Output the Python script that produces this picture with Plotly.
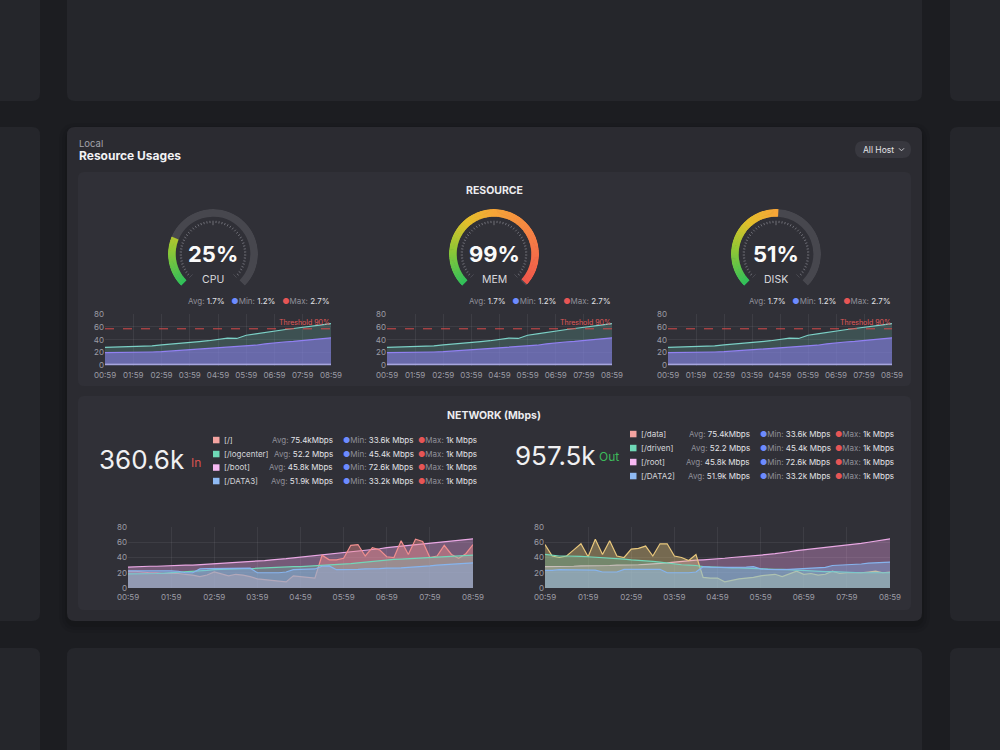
import plotly.graph_objects as go

W, H = 1000, 750
FONT = "Inter, 'Noto Sans', sans-serif"


def px(x):
    return x / W


def py(y):
    return 1 - y / H


# ---------------- data ----------------
TIME_TICKS = ["00:59", "01:59", "02:59", "03:59", "04:59", "05:59", "06:59", "07:59", "08:59"]
TICK_MIN = [0, 60, 120, 180, 240, 300, 360, 420, 480]
Y_TICKS = [0, 20, 40, 60, 80]
SAMPLE_10 = list(range(0, 481, 10))   # minutes after 00:59
SAMPLE_20 = list(range(0, 481, 20))

GAUGE_NAMES = ["CPU", "MEM", "DISK"]
GAUGE_VALUES = [25, 99, 51]
RES_AVG = ["1.7%", "1.7%", "1.7%"]
RES_MIN = ["1.2%", "1.2%", "1.2%"]
RES_MAX = ["2.7%", "2.7%", "2.7%"]
THRESHOLD = 57
THRESHOLD_LABEL = "Threshold 90%"

RES_UPPER = [28, 28.5, 28.5, 29, 29.5, 30.5, 32, 33, 34.5, 36, 37, 38.5, 40, 42.5, 42, 47,
             49, 51.5, 54, 55.5, 57.5, 59, 61, 63, 65]
RES_LOWER = [20, 20, 20, 20, 20.5, 21, 21.5, 22.5, 23, 24, 25, 26, 27, 28, 29, 30, 31.5,
             33.5, 35.5, 36.5, 37.5, 38.7, 40, 41.5, 43]
RES_BASE = [2, 2, 2, 2, 2, 2, 2, 2, 2, 2, 2, 2, 2, 2, 2, 2, 2, 2, 2, 2, 2, 2, 2, 2, 2]

IN_TOTAL = "360.6k"
OUT_TOTAL = "957.5k"
IN_NAMES = ["[/]", "[/logcenter]", "[/boot]", "[/DATA3]"]
OUT_NAMES = ["[/data]", "[/driven]", "[/root]", "[/DATA2]"]
NET_AVG = ["75.4kMbps", "52.2 Mbps", "45.8k Mbps", "51.9k Mbps"]
NET_MIN = ["33.6k Mbps", "45.4k Mbps", "72.6k Mbps", "33.2k Mbps"]
NET_MAX = ["1k Mbps", "1k Mbps", "1k Mbps", "1k Mbps"]
LEGEND_COLORS = ["#f4a3a0", "#6fd8b6", "#f6b8f2", "#8fbaf4"]

NET_IN_ROOT = [22, 22, 21, 20, 20, 19, 19, 19, 18, 17, 15, 17, 21, 18, 16, 18, 17, 15, 12, 11,
               10, 9, 8, 16, 15, 14, 13, 43, 37, 37, 39, 56, 57, 42, 53, 50, 41, 40, 62, 44,
               64, 61, 40, 42, 56, 44, 39, 45, 57]
NET_IN_LOG = [18.5, 18.5, 19, 19, 19, 19.5, 20, 20.5, 21, 21.5, 22, 23, 24, 24.5, 25, 25, 25.5,
              25.5, 26, 26.5, 27, 27, 27.5, 28, 28, 28.5, 29, 29.5, 30, 30.5, 31, 32, 33, 34, 35,
              36, 37, 37.5, 38, 38.5, 39, 40, 40.5, 41, 41.5, 42, 42, 42.5, 43]
NET_IN_BOOT = [27.5, 28, 28, 28.5, 28.5, 29, 29, 29.5, 30, 30, 30.5, 31, 31.5, 32, 32.5, 33, 33.5,
               34, 35, 36, 37, 37.5, 38.5, 39.5, 40.5, 41.5, 42.5, 43.5, 44.5, 45, 46, 47, 48, 49,
               50.5, 51.5, 53, 54, 55, 56, 57, 58, 59, 60, 61, 62, 63, 63.5, 64.5]
NET_IN_DATA3 = [22.5, 22.5, 23, 23, 23, 22.5, 22.5, 22, 20, 20, 25, 25.5, 25.5, 25.5, 25.5, 25.5,
                26, 26, 20, 20, 20, 20, 21, 24, 24.5, 24.5, 25, 28.5, 29, 24, 24, 24, 24.5, 25, 25,
                25.5, 26, 26, 26.5, 27, 27.5, 28, 29, 30, 30.5, 31, 32, 32.5, 33]

NET_OUT_DATA = [57, 42, 40, 42, 50, 58, 41, 64, 44, 62, 42, 40, 51, 52, 55, 42, 58, 58, 42, 40,
                36, 44, 14, 13, 13, 8, 10, 12, 13, 14, 16, 17, 18, 15, 18, 22, 18, 19, 17, 18,
                22, 19, 20, 20, 20, 21, 22, 20, 21]
NET_OUT_DRIVEN = [44, 43, 42, 42, 42, 41.5, 41, 40.5, 40, 39, 38.5, 38, 37, 36.5, 36, 35, 34, 32.5,
                  31, 30.5, 30, 29.5, 28, 27.5, 27, 27, 26.5, 26.5, 26, 25.5, 25, 25, 24.5, 24.5,
                  24, 23.5, 23, 22, 22, 21.5, 21.5, 21, 21, 20.5, 20, 20, 20, 20, 20]
NET_OUT_ROOT = [28, 28, 28, 28.5, 28.5, 29, 29, 29, 29.5, 29.5, 30, 30, 30, 30.5, 31, 31.5, 32, 33,
                34, 35, 36, 36.5, 37, 37.5, 38, 39, 40, 41, 41.5, 42.5, 43, 44, 45, 46, 47.5, 49,
                50, 51, 52, 53, 54, 55, 56, 57, 58.5, 60, 61.5, 63, 64.5]
NET_OUT_DATA2 = [23, 23, 24, 24, 24, 24, 24, 23.5, 21, 21, 21, 24.5, 24.5, 25, 25, 25, 24.5, 20,
                 20, 20, 20, 21, 28, 27.5, 27, 27, 27, 27, 27.5, 28, 25, 24.5, 24, 24, 24.5, 25,
                 25.5, 26, 26.5, 27, 29.5, 30, 30, 31, 31.5, 32.5, 33, 33.5, 34]

# ---------------- styles ----------------
PAGE_BG = "#1c1d21"
SIDE_CARD = "#25262b"
MAIN_CARD = "#2b2b31"
PANEL = "#303037"
TICK_COLOR = "#9c9ca5"
GRID = "rgba(255,255,255,0.065)"
LBL = "#8f8f98"
VAL = "#e2e2e6"

fig = go.Figure()
shapes = []
annotations = []


def rrect(x0, y0, x1, y1, r, color):
    cx = lambda v: min(max(v, 0), W)
    cy = lambda v: min(max(v, 0), H)
    X = lambda v: f"{cx(v) / W:.5f}"
    Y = lambda v: f"{1 - cy(v) / H:.5f}"
    path = (f"M {X(x0 + r)},{Y(y0)} L {X(x1 - r)},{Y(y0)} Q {X(x1)},{Y(y0)} {X(x1)},{Y(y0 + r)} "
            f"L {X(x1)},{Y(y1 - r)} Q {X(x1)},{Y(y1)} {X(x1 - r)},{Y(y1)} L {X(x0 + r)},{Y(y1)} "
            f"Q {X(x0)},{Y(y1)} {X(x0)},{Y(y1 - r)} L {X(x0)},{Y(y0 + r)} Q {X(x0)},{Y(y0)} {X(x0 + r)},{Y(y0)} Z")
    shapes.append(dict(type="path", path=path, xref="paper", yref="paper", fillcolor=color,
                       line=dict(width=0), layer="below"))


def text(s, x, y, size, color=VAL, xa="center", ya="middle"):
    annotations.append(dict(text=s, x=px(x), y=py(y), xref="paper", yref="paper", xanchor=xa,
                            yanchor=ya, showarrow=False, borderpad=0,
                            font=dict(size=size, color=color, family=FONT)))


# background cards
for (y0, y1) in [(-20, 101), (127, 621), (648, 770)]:
    rrect(-20, y0, 40, y1, 8, SIDE_CARD)
    rrect(950, y0, 1020, y1, 8, SIDE_CARD)
rrect(67, -20, 922, 101, 8, SIDE_CARD)
rrect(67, 648, 922, 770, 8, SIDE_CARD)
for i, a in enumerate([0.05, 0.06, 0.08]):
    g = 8 - i * 3
    rrect(67 - g, 127 - g + 4, 922 + g, 621 + g + 4, 10 + g, f"rgba(0,0,0,{a})")
rrect(67, 127, 922, 621, 8, MAIN_CARD)
rrect(78, 172, 911, 386, 6, PANEL)
rrect(78, 396, 911, 610, 6, PANEL)
rrect(855, 141, 911, 158, 8.5, "#38383f")

# chevron on the host selector
shapes.append(dict(type="path", xref="paper", yref="paper", layer="above",
                   path=f"M {px(899)},{py(148.3)} L {px(901.5)},{py(150.8)} L {px(904)},{py(148.3)}",
                   line=dict(color="#c8c8cc", width=1)))

# header texts
text("Local", 78, 143, 9.5, "#a3a3ab", xa="left")
text("<b>Resource Usages</b>", 78, 156, 12, "#f2f2f4", xa="left")
text("All Host", 862, 149.5, 8.5, "#e2e2e6", xa="left")
text("<b>RESOURCE</b>", 494, 191, 10.5, "#ececef")
text("<b>NETWORK (Mbps)</b>", 494, 415, 10.5, "#ececef")


# ---------------- gauges ----------------
def grad(f):
    stops = [(0.0, (46, 192, 92)), (0.2, (150, 200, 52)), (0.35, (228, 192, 44)),
             (0.5, (247, 166, 56)), (0.75, (246, 126, 70)), (1.0, (240, 86, 76))]
    for (f0, c0), (f1, c1) in zip(stops[:-1], stops[1:]):
        if f <= f1:
            t = (f - f0) / (f1 - f0) if f1 > f0 else 0
            c = [round(a + (b - a) * t) for a, b in zip(c0, c1)]
            return f"rgb({c[0]},{c[1]},{c[2]})"
    return "rgb(240,86,76)"


GAUGE_CX = [213, 494, 776]
GAUGE_CY = 254
GAUGE_R = 45
SWEEP = 270.0
BAND_BASE = 0.83

for gi, (name, val) in enumerate(zip(GAUGE_NAMES, GAUGE_VALUES)):
    pid = "polar" if gi == 0 else f"polar{gi + 1}"
    cx = GAUGE_CX[gi]
    fig.layout[pid] = dict(
        domain=dict(x=[px(cx - GAUGE_R), px(cx + GAUGE_R)],
                    y=[py(GAUGE_CY + GAUGE_R * 0.7071), py(GAUGE_CY - GAUGE_R)]),
        sector=[-45, 225], hole=0, bgcolor="rgba(0,0,0,0)", barmode="overlay",
        radialaxis=dict(visible=False, range=[0, 1], showgrid=False),
        angularaxis=dict(visible=False, rotation=225, direction="clockwise",
                         thetaunit="degrees", showgrid=False))
    vdeg = val / 100 * SWEEP
    fig.add_trace(go.Barpolar(subplot=pid, theta=[(vdeg + SWEEP) / 2], width=[SWEEP - vdeg],
                              r=[1 - BAND_BASE], base=[BAND_BASE],
                              marker=dict(color="#47474e", line=dict(width=0)),
                              hoverinfo="skip"))
    n = max(2, int(round(vdeg / 1.5)))
    step = vdeg / n
    th = [step * (i + 0.5) for i in range(n)]
    fig.add_trace(go.Barpolar(subplot=pid, theta=th, width=[step * 1.6] * n,
                              r=[1 - BAND_BASE] * n, base=[BAND_BASE] * n,
                              marker=dict(color=[grad(t / SWEEP) for t in th], line=dict(width=0)),
                              hoverinfo="skip"))
    rr, tt = [], []
    for i in range(51):
        t = i * SWEEP / 50
        r0 = 0.64 if i % 25 == 0 else 0.69
        rr += [r0, 0.74, None]
        tt += [t, t, None]
    fig.add_trace(go.Scatterpolar(subplot=pid, r=rr, theta=tt, mode="lines",
                                  line=dict(color="#6f6f77", width=1), hoverinfo="skip"))
    text(f"<b>{val}%</b>", cx, 253.5, 22, "#fafafa")
    text(name, cx, 279, 10.5, "#dadade")

# ---------------- small resource charts ----------------
RES_DOMAINS = [(105, 331), (387, 612), (668, 892)]
RES_Y = (314, 365.5)
NET_DOMAINS = [(128, 473), (545, 890)]
NET_Y = (527, 588)


def set_axes(idx, xd, yd):
    xs = "xaxis" if idx == 1 else f"xaxis{idx}"
    ys = "yaxis" if idx == 1 else f"yaxis{idx}"
    anchor_x = "x" if idx == 1 else f"x{idx}"
    anchor_y = "y" if idx == 1 else f"y{idx}"
    fig.layout[xs] = dict(domain=[px(xd[0]), px(xd[1])], anchor=anchor_y, range=[0, 480],
                          tickvals=TICK_MIN, ticktext=TIME_TICKS, showgrid=True, gridcolor=GRID,
                          gridwidth=1, zeroline=False, showline=False, ticks="",
                          ticklabelstandoff=3, automargin=False,
                          tickfont=dict(size=8, color=TICK_COLOR, family=FONT), fixedrange=True)
    fig.layout[ys] = dict(domain=[py(yd[1]), py(yd[0])], anchor=anchor_x, range=[0, 80],
                          tickvals=Y_TICKS, showgrid=True, gridcolor=GRID, zeroline=False,
                          showline=False, ticks="", automargin=False,
                          tickfont=dict(size=8, color=TICK_COLOR, family=FONT), fixedrange=True)
    return anchor_x, anchor_y


def area(xa, ya, xs, ys, line, fill, width=1.2):
    fig.add_trace(go.Scatter(x=xs, y=ys, xaxis=xa, yaxis=ya, mode="lines", fill="tozeroy",
                             fillcolor=fill, line=dict(color=line, width=width),
                             hoverinfo="skip"))


for i, (x0, x1) in enumerate(RES_DOMAINS):
    xa, ya = set_axes(i + 1, (x0, x1), RES_Y)
    area(xa, ya, SAMPLE_20, RES_UPPER, "#7bd0c6", "rgba(100,180,165,0.25)")
    area(xa, ya, SAMPLE_20, RES_LOWER, "#9180f2", "rgba(140,125,240,0.55)")
    area(xa, ya, SAMPLE_20, RES_BASE, "#b6b4ea", "rgba(200,198,245,0.35)", 1)
    shapes.append(dict(type="line", xref=f"{xa} domain", yref=ya, x0=0, x1=1,
                       y0=THRESHOLD, y1=THRESHOLD, layer="above",
                       line=dict(color="#d84a4a", width=1, dash="dash")))
    annotations.append(dict(text=THRESHOLD_LABEL, xref=f"{xa} domain", yref=ya, x=1.0, y=THRESHOLD + 1,
                            xanchor="right", yanchor="bottom", showarrow=False, borderpad=0,
                            font=dict(size=7, color="#e05a5a", family=FONT)))
    stats = (f"<span style='color:{LBL}'>Avg:</span> {RES_AVG[i]}\u00a0\u00a0\u00a0"
             f"<span style='color:#6d8bff'>●</span><span style='color:{LBL}'>Min:</span> {RES_MIN[i]}\u00a0\u00a0\u00a0"
             f"<span style='color:#e65555'>●</span><span style='color:{LBL}'>Max:</span> {RES_MAX[i]}")
    text(stats, x1, 301, 8, VAL, xa="right")

# ---------------- network charts ----------------
xa, ya = set_axes(4, NET_DOMAINS[0], NET_Y)
area(xa, ya, SAMPLE_10, NET_IN_BOOT, "#eaa8e4", "rgba(232,160,226,0.38)")
area(xa, ya, SAMPLE_10, NET_IN_ROOT, "#f08e8e", "rgba(240,140,140,0.42)")
area(xa, ya, SAMPLE_10, NET_IN_LOG, "#72d6b8", "rgba(114,214,184,0.28)")
area(xa, ya, SAMPLE_10, NET_IN_DATA3, "#86b4ee", "rgba(134,180,238,0.38)")

xa, ya = set_axes(5, NET_DOMAINS[1], NET_Y)
area(xa, ya, SAMPLE_10, NET_OUT_ROOT, "#eaa8e4", "rgba(232,160,226,0.36)")
area(xa, ya, SAMPLE_10, NET_OUT_DATA, "#e8c77c", "rgba(232,200,122,0.38)")
area(xa, ya, SAMPLE_10, NET_OUT_DRIVEN, "#72d6b8", "rgba(114,214,184,0.28)")
area(xa, ya, SAMPLE_10, NET_OUT_DATA2, "#86b4ee", "rgba(134,180,238,0.38)")

# network headline numbers and legends
text(IN_TOTAL, 141, 460, 26, "#f0f0f2")
text("In", 196, 462, 12, "#d9534f")
text(OUT_TOTAL, 555, 455, 26, "#f0f0f2")
text("Out", 609, 456, 12, "#3cb95a")


def legend_block(names, rows_y, sq_x, avg_right, min_x, max_x):
    for j, nm in enumerate(names):
        y = rows_y[j]
        shapes.append(dict(type="rect", xref="paper", yref="paper", x0=px(sq_x), x1=px(sq_x + 6.5),
                           y0=py(y + 3.3), y1=py(y - 3.2), fillcolor=LEGEND_COLORS[j],
                           line=dict(width=0), layer="above"))
        text(nm, sq_x + 10, y, 8, "#d6d6da", xa="left")
        text(f"<span style='color:{LBL}'>Avg:</span> {NET_AVG[j]}", avg_right, y, 8, VAL, xa="right")
        text(f"<span style='color:#6d8bff'>●</span><span style='color:{LBL}'>Min:</span> {NET_MIN[j]}",
             min_x, y, 8, VAL, xa="left")
        text(f"<span style='color:#e65555'>●</span><span style='color:{LBL}'>Max:</span> {NET_MAX[j]}",
             max_x, y, 8, VAL, xa="left")


legend_block(IN_NAMES, [440, 454, 467.5, 481], 213, 334, 342, 417)
legend_block(OUT_NAMES, [434, 448, 462, 476], 630, 751, 759, 834)

fig.update_layout(width=W, height=H, margin=dict(l=0, r=0, t=0, b=0, pad=0, autoexpand=False),
                  autosize=False,
                  paper_bgcolor=PAGE_BG, plot_bgcolor="rgba(0,0,0,0)", showlegend=False,
                  shapes=shapes, annotations=annotations, font=dict(family=FONT),
                  hovermode=False)

fig.write_html("out.html", config={"displayModeBar": False},
               post_script="document.body.style.margin='0';document.body.style.padding='0';"
                           "document.body.style.overflow='hidden';"
                           "document.body.style.background='" + PAGE_BG + "';")
